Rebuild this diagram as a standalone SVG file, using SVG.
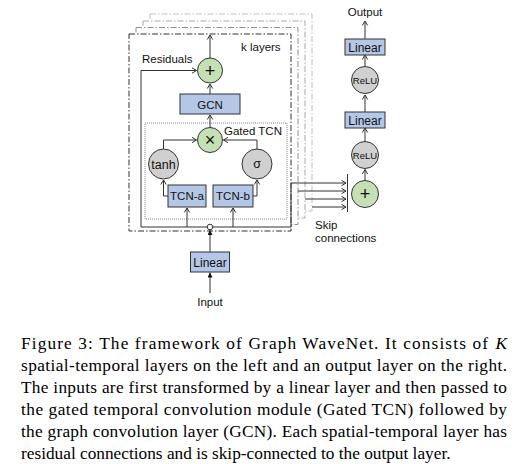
<svg xmlns="http://www.w3.org/2000/svg" width="521" height="464" viewBox="0 0 521 464">
<style>
.box{fill:#b4c7e7;stroke:#333;stroke-width:1}
.grn{fill:#c5e0b4;stroke:#333;stroke-width:1}
.gry{fill:#d0d0d0;stroke:#333;stroke-width:1}
.lyr{fill:#fff;stroke-width:1;stroke-dasharray:6,2,1.5,2}
.ln{fill:none;stroke:#333;stroke-width:1}
.t{font-family:"Liberation Sans",Arial,sans-serif;font-size:11.5px;fill:#111}
.c{text-anchor:middle}
.op{font-size:18px}
.lin{font-size:12px}
.big{font-size:12.5px}
.relu{font-size:9.5px}
.cap{font-family:"Liberation Serif","Times New Roman",serif;font-size:17.3px;fill:#000}
</style>
<defs>
<marker id="oa" markerWidth="8" markerHeight="8" refX="6" refY="4" orient="auto" markerUnits="userSpaceOnUse">
<path d="M1.5,1.3 L6,4 L1.5,6.7" fill="none" stroke="#333" stroke-width="1"/>
</marker>
<marker id="fa" markerWidth="6" markerHeight="6" refX="5" refY="2.5" orient="auto" markerUnits="userSpaceOnUse">
<path d="M0,0 L5,2.5 L0,5 z" fill="#111"/>
</marker>
</defs>

<g id="layers">
<rect class="lyr" x="150" y="14" width="162" height="197" stroke="#c0c0c0"/>
<rect class="lyr" x="143" y="21" width="162" height="197" stroke="#a8a8a8"/>
<rect class="lyr" x="136" y="27.5" width="162" height="197" stroke="#909090"/>
<rect class="lyr" x="129" y="34" width="162" height="197" stroke="#333"/>
<rect id="gated-tcn-box" x="145" y="123" width="142" height="96" fill="none" stroke="#888" stroke-width="1" stroke-dasharray="1,1"/>
</g>

<g id="connectors">
<path class="ln" d="M210,227 H141 V70.5 H196.5" marker-end="url(#oa)"/>
<path class="ln" d="M210,227 H291 V183 H346" marker-end="url(#oa)"/>
<path class="ln" d="M298,191 H346" marker-end="url(#oa)"/>
<path class="ln" d="M305,199 H346" marker-end="url(#oa)"/>
<path class="ln" d="M312,207 H346" marker-end="url(#oa)"/>
<path class="ln" d="M347.5,174 V212"/>
<path class="ln" d="M210,58 V35" marker-end="url(#oa)"/>
<path class="ln" d="M210,94 V84" marker-end="url(#oa)"/>
<path class="ln" d="M210,127.5 V115" marker-end="url(#oa)"/>
<path class="ln" d="M163.5,149 V140 H196.5" marker-end="url(#oa)"/>
<path class="ln" d="M257,149 V140 H223.5" marker-end="url(#oa)"/>
<path class="ln" d="M168,196 H163.5 V180" marker-end="url(#oa)"/>
<path class="ln" d="M253,196 H257 V180" marker-end="url(#oa)"/>
<path class="ln" d="M187,227 V208" marker-end="url(#oa)"/>
<path class="ln" d="M233,227 V208" marker-end="url(#oa)"/>
<path class="ln" d="M210,252 V230" marker-end="url(#fa)"/>
<path class="ln" d="M210,293 V272.5" marker-end="url(#fa)"/>
<path class="ln" d="M365,180.5 V169.5" marker-end="url(#oa)"/>
<path class="ln" d="M365,141.5 V128" marker-end="url(#oa)"/>
<path class="ln" d="M365,112 V95" marker-end="url(#oa)"/>
<path class="ln" d="M365,66 V55" marker-end="url(#oa)"/>
<path class="ln" d="M365,39 V21" marker-end="url(#oa)"/>
</g>

<g id="plus-res"><circle class="grn" cx="210" cy="70.5" r="12.5"/><text class="t c op" x="210" y="76.8">+</text></g>
<g id="gcn"><rect class="box" x="180" y="94" width="60" height="20"/><text class="t c" x="210" y="108.5">GCN</text></g>
<g id="mult"><circle class="grn" cx="210" cy="140" r="12.5"/><text class="t c op" x="210" y="146">×</text></g>
<g id="tanh"><circle class="gry" cx="163.5" cy="164" r="15"/><text class="t c big" x="163.5" y="168.5">tanh</text></g>
<g id="sigma"><circle class="gry" cx="257" cy="164" r="15"/><text class="t c big" x="257" y="168">σ</text></g>
<g id="tcn-a"><rect class="box" x="168" y="185" width="38" height="22"/><text class="t c" x="187" y="200">TCN-a</text></g>
<g id="tcn-b"><rect class="box" x="213" y="185" width="40" height="22"/><text class="t c" x="233" y="200">TCN-b</text></g>
<g id="split"><circle cx="210" cy="227" r="2.8" fill="#fff" stroke="#333" stroke-width="1"/></g>
<g id="linear-in"><rect class="box" x="190.5" y="252" width="39" height="20"/><text class="t c lin" x="210" y="266.5">Linear</text></g>
<g id="input"><text class="t c" x="210" y="306">Input</text></g>

<g id="plus-skip"><circle class="grn" cx="365" cy="194" r="13.5"/><text class="t c op" x="365" y="200.3">+</text></g>
<g id="relu1"><circle class="gry" cx="365" cy="155" r="13.5"/><text class="t c relu" x="365" y="158.5">ReLU</text></g>
<g id="linear1"><rect class="box" x="345" y="112" width="40" height="16"/><text class="t c lin" x="365" y="124.5">Linear</text></g>
<g id="relu2"><circle class="gry" cx="365" cy="80" r="13.5"/><text class="t c relu" x="365" y="83.5">ReLU</text></g>
<g id="linear2"><rect class="box" x="345" y="39" width="40" height="16"/><text class="t c lin" x="365" y="51.5">Linear</text></g>
<g id="output"><text class="t c" x="365" y="16">Output</text></g>

<g id="labels">
<text class="t" x="241" y="50.5">k layers</text>
<text class="t" x="142" y="63">Residuals</text>
<text class="t" x="224" y="135">Gated TCN</text>
<text class="t" x="315" y="229">Skip</text>
<text class="t" x="315" y="242">connections</text>
</g>

<g id="caption">
<text class="cap" x="21" y="349" textLength="467" lengthAdjust="spacing">Figure 3: The framework of Graph WaveNet.  It consists of</text>
<text class="cap" x="507" y="349" text-anchor="end" font-style="italic">K</text>
<text class="cap" x="21" y="371" textLength="486" lengthAdjust="spacing">spatial-temporal layers on the left and an output layer on the right.</text>
<text class="cap" x="21" y="393" textLength="486" lengthAdjust="spacing">The inputs are first transformed by a linear layer and then passed to</text>
<text class="cap" x="21" y="415" textLength="486" lengthAdjust="spacing">the gated temporal convolution module (Gated TCN) followed by</text>
<text class="cap" x="21" y="437" textLength="486" lengthAdjust="spacing">the graph convolution layer (GCN). Each spatial-temporal layer has</text>
<text class="cap" x="21" y="459">residual connections and is skip-connected to the output layer.</text>
</g>
</svg>
